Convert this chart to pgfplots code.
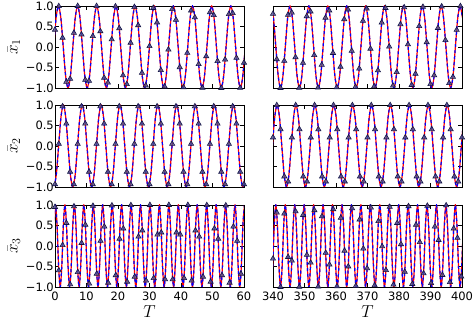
\documentclass[border=0pt]{standalone}
\usepackage[no-math]{fontspec}
\setmainfont{DejaVu Sans}
\usepackage{pgfplots}
\usepackage{pgfplotstable}
\pgfplotsset{compat=1.18}
\definecolor{triedge}{RGB}{20,20,70}
\definecolor{trifill}{RGB}{80,80,140}

% ---------- curves ----------
\pgfplotstableread[row sep=\\]{T y\\
-0.42 0\\0.34 0.707\\1.10 1\\1.86 0.707\\2.62 0\\3.38 -0.707\\4.14 -1\\4.90 -0.707\\
5.66 0\\6.42 0.707\\7.18 1\\7.94 0.707\\8.70 0\\9.46 -0.707\\10.22 -1\\10.98 -0.707\\
11.74 0\\12.50 0.707\\13.26 1\\14.02 0.707\\14.78 0\\15.54 -0.707\\16.30 -1\\17.06 -0.707\\
17.82 0\\18.58 0.707\\19.34 1\\20.10 0.707\\20.86 0\\21.62 -0.707\\22.38 -1\\23.14 -0.707\\
23.90 0\\24.66 0.707\\25.42 1\\26.18 0.707\\26.94 0\\27.70 -0.707\\28.46 -1\\29.22 -0.707\\
29.98 0\\30.74 0.707\\31.50 1\\32.26 0.707\\33.02 0\\33.78 -0.707\\34.54 -1\\35.30 -0.707\\
36.06 0\\36.82 0.707\\37.58 1\\38.34 0.707\\39.10 0\\39.86 -0.707\\40.62 -1\\41.38 -0.707\\
42.14 0\\42.90 0.707\\43.66 1\\44.42 0.707\\45.18 0\\45.94 -0.707\\46.70 -1\\47.46 -0.707\\
48.22 0\\48.98 0.707\\49.74 1\\50.50 0.707\\51.26 0\\52.02 -0.707\\52.78 -1\\53.54 -0.707\\
54.30 0\\55.06 0.707\\55.82 1\\56.58 0.707\\57.34 0\\58.10 -0.707\\58.86 -1\\59.62 -0.707\\
60.38 0\\
}\tlc
\pgfplotstableread[row sep=\\]{T y\\
339.40 1\\340.15 0.707\\340.90 0\\341.65 -0.707\\342.40 -1\\343.15 -0.707\\343.90 0\\344.65 0.707\\
345.40 1\\346.15 0.707\\346.90 0\\347.65 -0.707\\348.40 -1\\349.15 -0.707\\349.90 0\\350.65 0.707\\
351.40 1\\352.15 0.707\\352.90 0\\353.65 -0.707\\354.40 -1\\355.15 -0.707\\355.90 0\\356.65 0.707\\
357.40 1\\358.15 0.707\\358.90 0\\359.65 -0.707\\360.40 -1\\361.15 -0.707\\361.90 0\\362.65 0.707\\
363.40 1\\364.15 0.707\\364.90 0\\365.65 -0.707\\366.40 -1\\367.15 -0.707\\367.90 0\\368.65 0.707\\
369.40 1\\370.15 0.707\\370.90 0\\371.65 -0.707\\372.40 -1\\373.15 -0.707\\373.90 0\\374.65 0.707\\
375.40 1\\376.15 0.707\\376.90 0\\377.65 -0.707\\378.40 -1\\379.15 -0.707\\379.90 0\\380.65 0.707\\
381.40 1\\382.15 0.707\\382.90 0\\383.65 -0.707\\384.40 -1\\385.15 -0.707\\385.90 0\\386.65 0.707\\
387.40 1\\388.15 0.707\\388.90 0\\389.65 -0.707\\390.40 -1\\391.15 -0.707\\391.90 0\\392.65 0.707\\
393.40 1\\394.15 0.707\\394.90 0\\395.65 -0.707\\396.40 -1\\397.15 -0.707\\397.90 0\\398.65 0.707\\
399.40 1\\400.15 0.707\\
}\trc
\pgfplotstableread[row sep=\\]{T y\\
-0.35 -1\\0.40 -0.707\\1.15 0\\1.90 0.707\\2.65 1\\3.40 0.707\\4.15 0\\4.90 -0.707\\
5.65 -1\\6.40 -0.707\\7.15 0\\7.90 0.707\\8.65 1\\9.40 0.707\\10.15 0\\10.90 -0.707\\
11.65 -1\\12.40 -0.707\\13.15 0\\13.90 0.707\\14.65 1\\15.40 0.707\\16.15 0\\16.90 -0.707\\
17.65 -1\\18.40 -0.707\\19.15 0\\19.90 0.707\\20.65 1\\21.40 0.707\\22.15 0\\22.90 -0.707\\
23.65 -1\\24.40 -0.707\\25.15 0\\25.90 0.707\\26.65 1\\27.40 0.707\\28.15 0\\28.90 -0.707\\
29.65 -1\\30.40 -0.707\\31.15 0\\31.90 0.707\\32.65 1\\33.40 0.707\\34.15 0\\34.90 -0.707\\
35.65 -1\\36.40 -0.707\\37.15 0\\37.90 0.707\\38.65 1\\39.40 0.707\\40.15 0\\40.90 -0.707\\
41.65 -1\\42.40 -0.707\\43.15 0\\43.90 0.707\\44.65 1\\45.40 0.707\\46.15 0\\46.90 -0.707\\
47.65 -1\\48.40 -0.707\\49.15 0\\49.90 0.707\\50.65 1\\51.40 0.707\\52.15 0\\52.90 -0.707\\
53.65 -1\\54.40 -0.707\\55.15 0\\55.90 0.707\\56.65 1\\57.40 0.707\\58.15 0\\58.90 -0.707\\
59.65 -1\\60.40 -0.707\\
}\mlc
\pgfplotstableread[row sep=\\]{T y\\
339.05 -0.707\\339.80 0\\340.55 0.707\\341.30 1\\342.05 0.707\\342.80 0\\343.55 -0.707\\344.30 -1\\
345.05 -0.707\\345.80 0\\346.55 0.707\\347.30 1\\348.05 0.707\\348.80 0\\349.55 -0.707\\350.30 -1\\
351.05 -0.707\\351.80 0\\352.55 0.707\\353.30 1\\354.05 0.707\\354.80 0\\355.55 -0.707\\356.30 -1\\
357.05 -0.707\\357.80 0\\358.55 0.707\\359.30 1\\360.05 0.707\\360.80 0\\361.55 -0.707\\362.30 -1\\
363.05 -0.707\\363.80 0\\364.55 0.707\\365.30 1\\366.05 0.707\\366.80 0\\367.55 -0.707\\368.30 -1\\
369.05 -0.707\\369.80 0\\370.55 0.707\\371.30 1\\372.05 0.707\\372.80 0\\373.55 -0.707\\374.30 -1\\
375.05 -0.707\\375.80 0\\376.55 0.707\\377.30 1\\378.05 0.707\\378.80 0\\379.55 -0.707\\380.30 -1\\
381.05 -0.707\\381.80 0\\382.55 0.707\\383.30 1\\384.05 0.707\\384.80 0\\385.55 -0.707\\386.30 -1\\
387.05 -0.707\\387.80 0\\388.55 0.707\\389.30 1\\390.05 0.707\\390.80 0\\391.55 -0.707\\392.30 -1\\
393.05 -0.707\\393.80 0\\394.55 0.707\\395.30 1\\396.05 0.707\\396.80 0\\397.55 -0.707\\398.30 -1\\
399.05 -0.707\\399.80 0\\400.55 0.707\\
}\mrc
\pgfplotstableread[row sep=\\]{T y\\
-0.35 0.5\\0.15 1\\0.65 0.5\\1.15 -0.5\\1.65 -1\\2.15 -0.5\\
2.65 0.5\\3.15 1\\3.65 0.5\\4.15 -0.5\\4.65 -1\\5.15 -0.5\\
5.65 0.5\\6.15 1\\6.65 0.5\\7.15 -0.5\\7.65 -1\\8.15 -0.5\\
8.65 0.5\\9.15 1\\9.65 0.5\\10.15 -0.5\\10.65 -1\\11.15 -0.5\\
11.65 0.5\\12.15 1\\12.65 0.5\\13.15 -0.5\\13.65 -1\\14.15 -0.5\\
14.65 0.5\\15.15 1\\15.65 0.5\\16.15 -0.5\\16.65 -1\\17.15 -0.5\\
17.65 0.5\\18.15 1\\18.65 0.5\\19.15 -0.5\\19.65 -1\\20.15 -0.5\\
20.65 0.5\\21.15 1\\21.65 0.5\\22.15 -0.5\\22.65 -1\\23.15 -0.5\\
23.65 0.5\\24.15 1\\24.65 0.5\\25.15 -0.5\\25.65 -1\\26.15 -0.5\\
26.65 0.5\\27.15 1\\27.65 0.5\\28.15 -0.5\\28.65 -1\\29.15 -0.5\\
29.65 0.5\\30.15 1\\30.65 0.5\\31.15 -0.5\\31.65 -1\\32.15 -0.5\\
32.65 0.5\\33.15 1\\33.65 0.5\\34.15 -0.5\\34.65 -1\\35.15 -0.5\\
35.65 0.5\\36.15 1\\36.65 0.5\\37.15 -0.5\\37.65 -1\\38.15 -0.5\\
38.65 0.5\\39.15 1\\39.65 0.5\\40.15 -0.5\\40.65 -1\\41.15 -0.5\\
41.65 0.5\\42.15 1\\42.65 0.5\\43.15 -0.5\\43.65 -1\\44.15 -0.5\\
44.65 0.5\\45.15 1\\45.65 0.5\\46.15 -0.5\\46.65 -1\\47.15 -0.5\\
47.65 0.5\\48.15 1\\48.65 0.5\\49.15 -0.5\\49.65 -1\\50.15 -0.5\\
50.65 0.5\\51.15 1\\51.65 0.5\\52.15 -0.5\\52.65 -1\\53.15 -0.5\\
53.65 0.5\\54.15 1\\54.65 0.5\\55.15 -0.5\\55.65 -1\\56.15 -0.5\\
56.65 0.5\\57.15 1\\57.65 0.5\\58.15 -0.5\\58.65 -1\\59.15 -0.5\\
59.65 0.5\\60.15 1\\
}\blc
\pgfplotstableread[row sep=\\]{T y\\
339.9 -0.5\\340.4 0.5\\340.9 1\\341.4 0.5\\341.9 -0.5\\342.4 -1\\
342.9 -0.5\\343.4 0.5\\343.9 1\\344.4 0.5\\344.9 -0.5\\345.4 -1\\
345.9 -0.5\\346.4 0.5\\346.9 1\\347.4 0.5\\347.9 -0.5\\348.4 -1\\
348.9 -0.5\\349.4 0.5\\349.9 1\\350.4 0.5\\350.9 -0.5\\351.4 -1\\
351.9 -0.5\\352.4 0.5\\352.9 1\\353.4 0.5\\353.9 -0.5\\354.4 -1\\
354.9 -0.5\\355.4 0.5\\355.9 1\\356.4 0.5\\356.9 -0.5\\357.4 -1\\
357.9 -0.5\\358.4 0.5\\358.9 1\\359.4 0.5\\359.9 -0.5\\360.4 -1\\
360.9 -0.5\\361.4 0.5\\361.9 1\\362.4 0.5\\362.9 -0.5\\363.4 -1\\
363.9 -0.5\\364.4 0.5\\364.9 1\\365.4 0.5\\365.9 -0.5\\366.4 -1\\
366.9 -0.5\\367.4 0.5\\367.9 1\\368.4 0.5\\368.9 -0.5\\369.4 -1\\
369.9 -0.5\\370.4 0.5\\370.9 1\\371.4 0.5\\371.9 -0.5\\372.4 -1\\
372.9 -0.5\\373.4 0.5\\373.9 1\\374.4 0.5\\374.9 -0.5\\375.4 -1\\
375.9 -0.5\\376.4 0.5\\376.9 1\\377.4 0.5\\377.9 -0.5\\378.4 -1\\
378.9 -0.5\\379.4 0.5\\379.9 1\\380.4 0.5\\380.9 -0.5\\381.4 -1\\
381.9 -0.5\\382.4 0.5\\382.9 1\\383.4 0.5\\383.9 -0.5\\384.4 -1\\
384.9 -0.5\\385.4 0.5\\385.9 1\\386.4 0.5\\386.9 -0.5\\387.4 -1\\
387.9 -0.5\\388.4 0.5\\388.9 1\\389.4 0.5\\389.9 -0.5\\390.4 -1\\
390.9 -0.5\\391.4 0.5\\391.9 1\\392.4 0.5\\392.9 -0.5\\393.4 -1\\
393.9 -0.5\\394.4 0.5\\394.9 1\\395.4 0.5\\395.9 -0.5\\396.4 -1\\
396.9 -0.5\\397.4 0.5\\397.9 1\\398.4 0.5\\398.9 -0.5\\399.4 -1\\
399.9 -0.5\\400.4 0.5\\
}\brc

% ---------- sampled points (triangles) ----------
\pgfplotstableread[row sep=\\]{T y\\
0 0.421\\1.2 0.995\\2.4 0.225\\3.6 -0.849\\4.8 -0.776\\6 0.345\\7.2 1.0\\8.4 0.305\\9.6 -0.802\\10.8 -0.826\\
12 0.266\\13.2 0.998\\14.4 0.383\\15.6 -0.750\\16.8 -0.870\\18 0.185\\19.2 0.990\\20.4 0.458\\21.6 -0.692\\22.8 -0.907\\
24 0.103\\25.2 0.974\\26.4 0.530\\27.6 -0.630\\28.8 -0.939\\30 0.020\\31.2 0.952\\32.4 0.598\\33.6 -0.564\\34.8 -0.964\\
36 -0.063\\37.2 0.924\\38.4 0.663\\39.6 -0.493\\40.8 -0.983\\42 -0.145\\43.2 0.889\\44.4 0.722\\45.6 -0.419\\46.8 -0.995\\
48 -0.227\\49.2 0.848\\50.4 0.777\\51.6 -0.343\\52.8 -1.0\\54 -0.307\\55.2 0.801\\56.4 0.827\\57.6 -0.264\\58.8 -0.998\\
60 -0.384\\
}\tlm
\pgfplotstableread[row sep=\\]{T y\\
340 0.809\\341.19 -0.299\\342.38 -1.000\\343.57 -0.339\\344.76 0.784\\345.95 0.839\\347.14 -0.249\\348.33 -0.997\\349.52 -0.388\\350.71 0.750\\
351.90 0.866\\353.09 -0.198\\354.28 -0.992\\355.47 -0.435\\356.66 0.714\\357.85 0.891\\359.04 -0.146\\360.23 -0.984\\361.42 -0.482\\362.61 0.677\\
363.80 0.914\\364.99 -0.094\\366.18 -0.974\\367.37 -0.527\\368.56 0.637\\369.75 0.934\\370.94 -0.042\\372.13 -0.960\\373.32 -0.571\\374.51 0.596\\
375.70 0.951\\376.89 0.010\\378.08 -0.944\\379.27 -0.613\\380.46 0.553\\381.65 0.966\\382.84 0.063\\384.03 -0.926\\385.22 -0.653\\386.41 0.509\\
387.60 0.978\\388.79 0.115\\389.98 -0.905\\391.17 -0.692\\392.36 0.463\\393.55 0.988\\394.74 0.167\\395.93 -0.881\\397.12 -0.729\\398.31 0.416\\
399.50 0.995\\
}\trm
\pgfplotstableread[row sep=\\]{T y\\
0 -0.934\\1.2 0.052\\2.4 0.966\\3.6 0.545\\4.8 -0.629\\6 -0.934\\7.2 0.052\\8.4 0.966\\9.6 0.545\\10.8 -0.629\\
12 -0.934\\13.2 0.052\\14.4 0.966\\15.6 0.545\\16.8 -0.629\\18 -0.934\\19.2 0.052\\20.4 0.966\\21.6 0.545\\22.8 -0.629\\
24 -0.934\\25.2 0.052\\26.4 0.966\\27.6 0.545\\28.8 -0.629\\30 -0.934\\31.2 0.052\\32.4 0.966\\33.6 0.545\\34.8 -0.629\\
36 -0.934\\37.2 0.052\\38.4 0.966\\39.6 0.545\\40.8 -0.629\\42 -0.934\\43.2 0.052\\44.4 0.966\\45.6 0.545\\46.8 -0.629\\
48 -0.934\\49.2 0.052\\50.4 0.966\\51.6 0.545\\52.8 -0.629\\54 -0.934\\55.2 0.052\\56.4 0.966\\57.6 0.545\\58.8 -0.629\\
60 -0.934\\
}\mlm
\pgfplotstableread[row sep=\\]{T y\\
340 0.208\\341.2 0.995\\342.4 0.407\\343.6 -0.743\\344.8 -0.866\\346 0.208\\347.2 0.995\\348.4 0.407\\349.6 -0.743\\350.8 -0.866\\
352 0.208\\353.2 0.995\\354.4 0.407\\355.6 -0.743\\356.8 -0.866\\358 0.208\\359.2 0.995\\360.4 0.407\\361.6 -0.743\\362.8 -0.866\\
364 0.208\\365.2 0.995\\366.4 0.407\\367.6 -0.743\\368.8 -0.866\\370 0.208\\371.2 0.995\\372.4 0.407\\373.6 -0.743\\374.8 -0.866\\
376 0.208\\377.2 0.995\\378.4 0.407\\379.6 -0.743\\380.8 -0.866\\382 0.208\\383.2 0.995\\384.4 0.407\\385.6 -0.743\\386.8 -0.866\\
388 0.208\\389.2 0.995\\390.4 0.407\\391.6 -0.743\\392.8 -0.866\\394 0.208\\395.2 0.995\\396.4 0.407\\397.6 -0.743\\398.8 -0.866\\
400 0.208\\
}\mrm
\pgfplotstableread[row sep=\\]{T y\\
0 0.951\\1.205 -0.596\\2.41 0.021\\3.615 0.562\\4.82 -0.937\\6.025 0.966\\7.23 -0.637\\8.435 0.073\\9.64 0.518\\10.845 -0.918\\
12.05 0.978\\13.255 -0.677\\14.46 0.125\\15.665 0.473\\16.87 -0.896\\18.075 0.988\\19.28 -0.714\\20.485 0.177\\21.69 0.426\\22.895 -0.871\\
24.1 0.995\\25.305 -0.750\\26.51 0.228\\27.715 0.378\\28.92 -0.844\\30.125 0.999\\31.33 -0.783\\32.535 0.279\\33.74 0.329\\34.945 -0.815\\
36.15 1.000\\37.355 -0.815\\38.56 0.329\\39.765 0.279\\40.97 -0.783\\42.175 0.999\\43.38 -0.844\\44.585 0.378\\45.79 0.228\\46.995 -0.750\\
48.2 0.995\\49.405 -0.871\\50.61 0.426\\51.815 0.177\\53.02 -0.714\\54.225 0.988\\55.43 -0.896\\56.635 0.473\\57.84 0.125\\59.045 -0.677\\
}\blm
\pgfplotstableread[row sep=\\]{T y\\
340 -0.309\\341.195 0.815\\342.39 -1.000\\343.585 0.790\\344.78 -0.269\\345.975 -0.358\\347.17 0.844\\348.365 -0.997\\349.56 0.757\\350.755 -0.218\\
351.95 -0.407\\353.145 0.871\\354.34 -0.992\\355.535 0.722\\356.73 -0.167\\357.925 -0.454\\359.12 0.896\\360.315 -0.984\\361.51 0.685\\362.705 -0.115\\
363.9 -0.500\\365.095 0.918\\366.29 -0.974\\367.485 0.646\\368.68 -0.063\\369.875 -0.545\\371.07 0.937\\372.265 -0.960\\373.46 0.605\\374.655 -0.010\\
375.85 -0.588\\377.045 0.954\\378.24 -0.944\\379.435 0.562\\380.63 0.042\\381.825 -0.629\\383.02 0.969\\384.215 -0.926\\385.41 0.518\\386.605 0.094\\
387.8 -0.669\\388.995 0.980\\390.19 -0.905\\391.385 0.473\\392.58 0.146\\393.775 -0.707\\394.97 0.989\\396.165 -0.881\\397.36 0.426\\398.555 0.198\\
399.75 -0.743\\
}\brm

\pgfplotsset{
  base/.style={scale only axis, width=189pt, height=82pt,
    ymin=-1, ymax=1, ytick={-1,-0.5,0,0.5,1},
    tick align=inside, xtick pos=both, ytick pos=both,
    major tick length=4pt,
    axis line style={line width=0.8pt, black},
    every tick/.style={black, line width=0.6pt},
    tick label style={font=\fontsize{11.5}{12}\selectfont},
    yticklabel style={inner sep=1pt},
    xticklabel style={inner sep=2pt, yshift=-2.5pt},
    xlabel style={font=\fontsize{18}{18}\selectfont, at={(axis description cs:0.5,-0.378)}, anchor=base},
    ylabel style={font=\fontsize{18}{18}\selectfont, at={(axis description cs:-0.217,0.5)}, anchor=center},
  },
  pleft/.style={base, xmin=0, xmax=60, xtick={0,10,...,60},
    yticklabels={−1.0,−0.5,0.0,0.5,1.0}},
  pright/.style={base, xmin=340, xmax=400, xtick={340,350,...,400}, yticklabels={}},
  nox/.style={xticklabels={}},
  redl/.style={red, line width=1.2pt, smooth, no markers},
  bluel/.style={blue, line width=1.2pt, dash pattern=on 3pt off 3pt, smooth, no markers},
  tri/.style={only marks, mark=triangle*, mark size=3pt,
    mark options={draw=triedge, fill=trifill, fill opacity=0.8, line width=0.6pt}},
}

\begin{document}
\begin{tikzpicture}
\useasboundingbox (0pt,0pt) rectangle (474pt,320pt);
% top row
\begin{axis}[pleft, nox, at={(55pt,232pt)}, anchor=south west, ylabel={$\bar{x}_1$}]
\addplot[redl] table {\tlc};
\addplot[bluel] table {\tlc};
\addplot[tri] table {\tlm};
\end{axis}
\begin{axis}[pright, nox, at={(273pt,232pt)}, anchor=south west]
\addplot[redl] table {\trc};
\addplot[bluel] table {\trc};
\addplot[tri] table {\trm};
\end{axis}
% middle row
\begin{axis}[pleft, nox, at={(55pt,133pt)}, anchor=south west, ylabel={$\bar{x}_2$}]
\addplot[redl] table {\mlc};
\addplot[bluel] table {\mlc};
\addplot[tri] table {\mlm};
\end{axis}
\begin{axis}[pright, nox, at={(273pt,133pt)}, anchor=south west]
\addplot[redl] table {\mrc};
\addplot[bluel] table {\mrc};
\addplot[tri] table {\mrm};
\end{axis}
% bottom row
\begin{axis}[pleft, at={(55pt,33pt)}, anchor=south west, ylabel={$\bar{x}_3$},
  xticklabels={0,10,20,30,40,50,60}, xlabel={$T$}]
\addplot[redl] table {\blc};
\addplot[bluel] table {\blc};
\addplot[tri] table {\blm};
\end{axis}
\begin{axis}[pright, at={(273pt,33pt)}, anchor=south west,
  xticklabels={340,350,360,370,380,390,400}, xlabel={$T$}]
\addplot[redl] table {\brc};
\addplot[bluel] table {\brc};
\addplot[tri] table {\brm};
\end{axis}
\end{tikzpicture}
\end{document}
